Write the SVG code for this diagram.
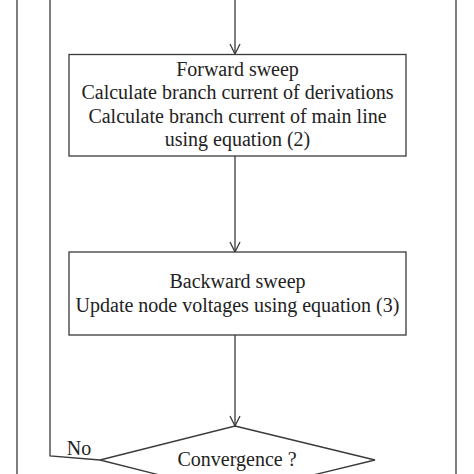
<svg xmlns="http://www.w3.org/2000/svg" width="474" height="474" viewBox="0 0 474 474">
<style>
.ln{fill:none;stroke:#3a3a3a;stroke-width:1.3}
.bx{fill:#fff;stroke:#3a3a3a;stroke-width:1.3}
.tx{font-family:"Liberation Serif","Times New Roman",serif;font-size:20px;fill:#222;text-anchor:middle}
</style>
<defs>
<marker id="ah" viewBox="0 0 12 12" refX="11" refY="6" markerWidth="12" markerHeight="12" markerUnits="userSpaceOnUse" orient="auto">
<path d="M1,1 L11,6 L1,11" fill="none" stroke="#3a3a3a" stroke-width="1.3"/>
</marker>
</defs>
<rect width="474" height="474" fill="#fff"/>
<g id="connectors">
<line class="ln" x1="17" y1="0" x2="17" y2="474"/>
<line class="ln" x1="456" y1="0" x2="456" y2="474"/>
<polyline class="ln" points="50,0 50,456 100,460"/>
<line class="ln" x1="235" y1="0" x2="235" y2="54" marker-end="url(#ah)"/>
<line class="ln" x1="235" y1="156" x2="235" y2="252" marker-end="url(#ah)"/>
<line class="ln" x1="235" y1="335" x2="235" y2="426" marker-end="url(#ah)"/>
<text class="tx" x="79" y="455">No</text>
</g>
<g id="forward">
<rect class="bx" x="69" y="54.5" width="337" height="101.5"/>
<text class="tx" x="237.5" y="75.5">Forward sweep</text>
<text class="tx" x="237.5" y="99">Calculate branch current of derivations</text>
<text class="tx" x="237.5" y="122.5">Calculate branch current of main line</text>
<text class="tx" x="237.5" y="146">using equation (2)</text>
</g>
<g id="backward">
<rect class="bx" x="69" y="252" width="337" height="83"/>
<text class="tx" x="237.5" y="288">Backward sweep</text>
<text class="tx" x="237.5" y="312">Update node voltages using equation (3)</text>
</g>
<g id="convergence">
<polygon class="bx" points="235,426 375,460 235,494 100,460"/>
<text class="tx" x="237" y="466">Convergence ?</text>
</g>
</svg>
